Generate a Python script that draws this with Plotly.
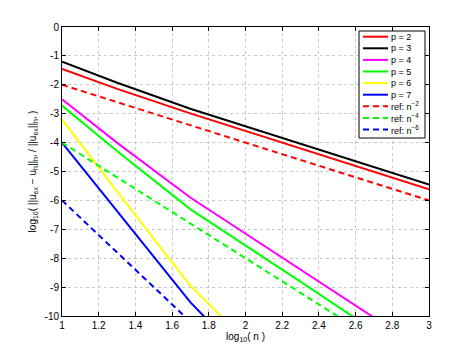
import plotly.graph_objects as go

# log10(n) for n = 10, 20, 50, 100, 200, 500, 1000
log_n = [1.0, 1.301, 1.699, 2.0, 2.301, 2.699, 3.0]

err_p2 = [-1.45, -2.14, -2.99, -3.60, -4.22, -5.02, -5.62]
err_p3 = [-1.20, -1.93, -2.83, -3.44, -4.05, -4.85, -5.45]
err_p4 = [-2.50, -4.01, -5.90, -7.15, -8.40, -10.05, -11.30]
err_p5 = [-2.72, -4.30, -6.30, -7.55, -8.82, -10.50, -11.70]
err_p6 = [-3.20, -5.70, -8.95, -10.90, -12.80, -15.30, -17.20]
err_p7 = [-4.00, -6.38, -9.52, -11.50, -13.50, -16.10, -18.10]
ref_n2 = [-2.0, -2.602, -3.398, -4.0, -4.602, -5.398, -6.0]
ref_n4 = [-4.0, -5.204, -6.796, -8.0, -9.204, -10.796, -12.0]
ref_n6 = [-6.0, -7.806, -10.194, -12.0, -13.806, -16.194, -18.0]

x_ticks = [1, 1.2, 1.4, 1.6, 1.8, 2, 2.2, 2.4, 2.6, 2.8, 3]
x_labels = ["1", "1.2", "1.4", "1.6", "1.8", "2", "2.2", "2.4", "2.6", "2.8", "3"]
y_ticks = [0, -1, -2, -3, -4, -5, -6, -7, -8, -9, -10]
y_labels = ["0", "-1", "-2", "-3", "-4", "-5", "-6", "-7", "-8", "-9", "-10"]

names = ["p = 2", "p = 3", "p = 4", "p = 5", "p = 6", "p = 7",
         "ref: n<sup>−2</sup>", "ref: n<sup>−4</sup>", "ref: n<sup>−6</sup>"]
values = [err_p2, err_p3, err_p4, err_p5, err_p6, err_p7, ref_n2, ref_n4, ref_n6]
colors = ["#ff0000", "#000000", "#ff00ff", "#00ff00", "#ffff00", "#0000ff",
          "#ff0000", "#00ff00", "#0000ff"]
dashes = ["solid"] * 6 + ["6px,4px"] * 3

fig = go.Figure()
for name, ys, color, dash in zip(names, values, colors, dashes):
    fig.add_trace(go.Scatter(x=log_n, y=ys, mode="lines", name=name, showlegend=False,
                             line=dict(color=color, width=2, dash=dash)))

# compact MATLAB-style legend box (paper coordinates)
PW, PH = 367.0, 289.0
def px(p):
    return p / PW
def py(p):
    return 1 - p / PH

box_l, box_r, box_t, box_b = 297, 363, 4, 111
fig.add_shape(type="rect", xref="paper", yref="paper",
              x0=px(box_l), x1=px(box_r), y0=py(box_b), y1=py(box_t),
              line=dict(color="black", width=1), fillcolor="white", layer="above")
row0, gap = 9.7, 11.6
for i, (name, color, dash) in enumerate(zip(names, colors, dashes)):
    yy = py(row0 + i * gap)
    fig.add_shape(type="line", xref="paper", yref="paper",
                  x0=px(301), x1=px(326), y0=yy, y1=yy,
                  line=dict(color=color, width=2, dash=dash), layer="above")
    fig.add_annotation(xref="paper", yref="paper", x=px(327), y=yy,
                       xanchor="left", yanchor="middle", text=name, showarrow=False,
                       font=dict(size=9, color="black"))

axis_common = dict(showline=True, linecolor="black", linewidth=1, mirror="ticks",
                   ticks="inside", ticklen=4, tickcolor="black",
                   showgrid=True, gridcolor="#c8c8c8", griddash="dot", gridwidth=1,
                   zeroline=False, tickfont=dict(size=10, color="black"))

fig.update_xaxes(range=[1, 3], tickvals=x_ticks, ticktext=x_labels,
                 title=dict(text="log<sub>10</sub>( n )", font=dict(size=10), standoff=0),
                 **axis_common)
fig.update_yaxes(range=[-10, 0], tickvals=y_ticks, ticktext=y_labels,
                 title=dict(text="log<sub>10</sub>( ||u<sub>ex</sub> − u<sub>h</sub>||<sub>h¹</sub> / ||u<sub>ex</sub>||<sub>h¹</sub> )",
                            font=dict(size=10), standoff=6),
                 **axis_common)

fig.update_layout(
    width=466, height=347,
    margin=dict(l=54, r=45, t=19, b=39),
    paper_bgcolor="white", plot_bgcolor="white",
    font=dict(family="Liberation Sans, Arial, sans-serif", color="black", size=10),
    showlegend=False,
)

fig.write_html("out.html")
